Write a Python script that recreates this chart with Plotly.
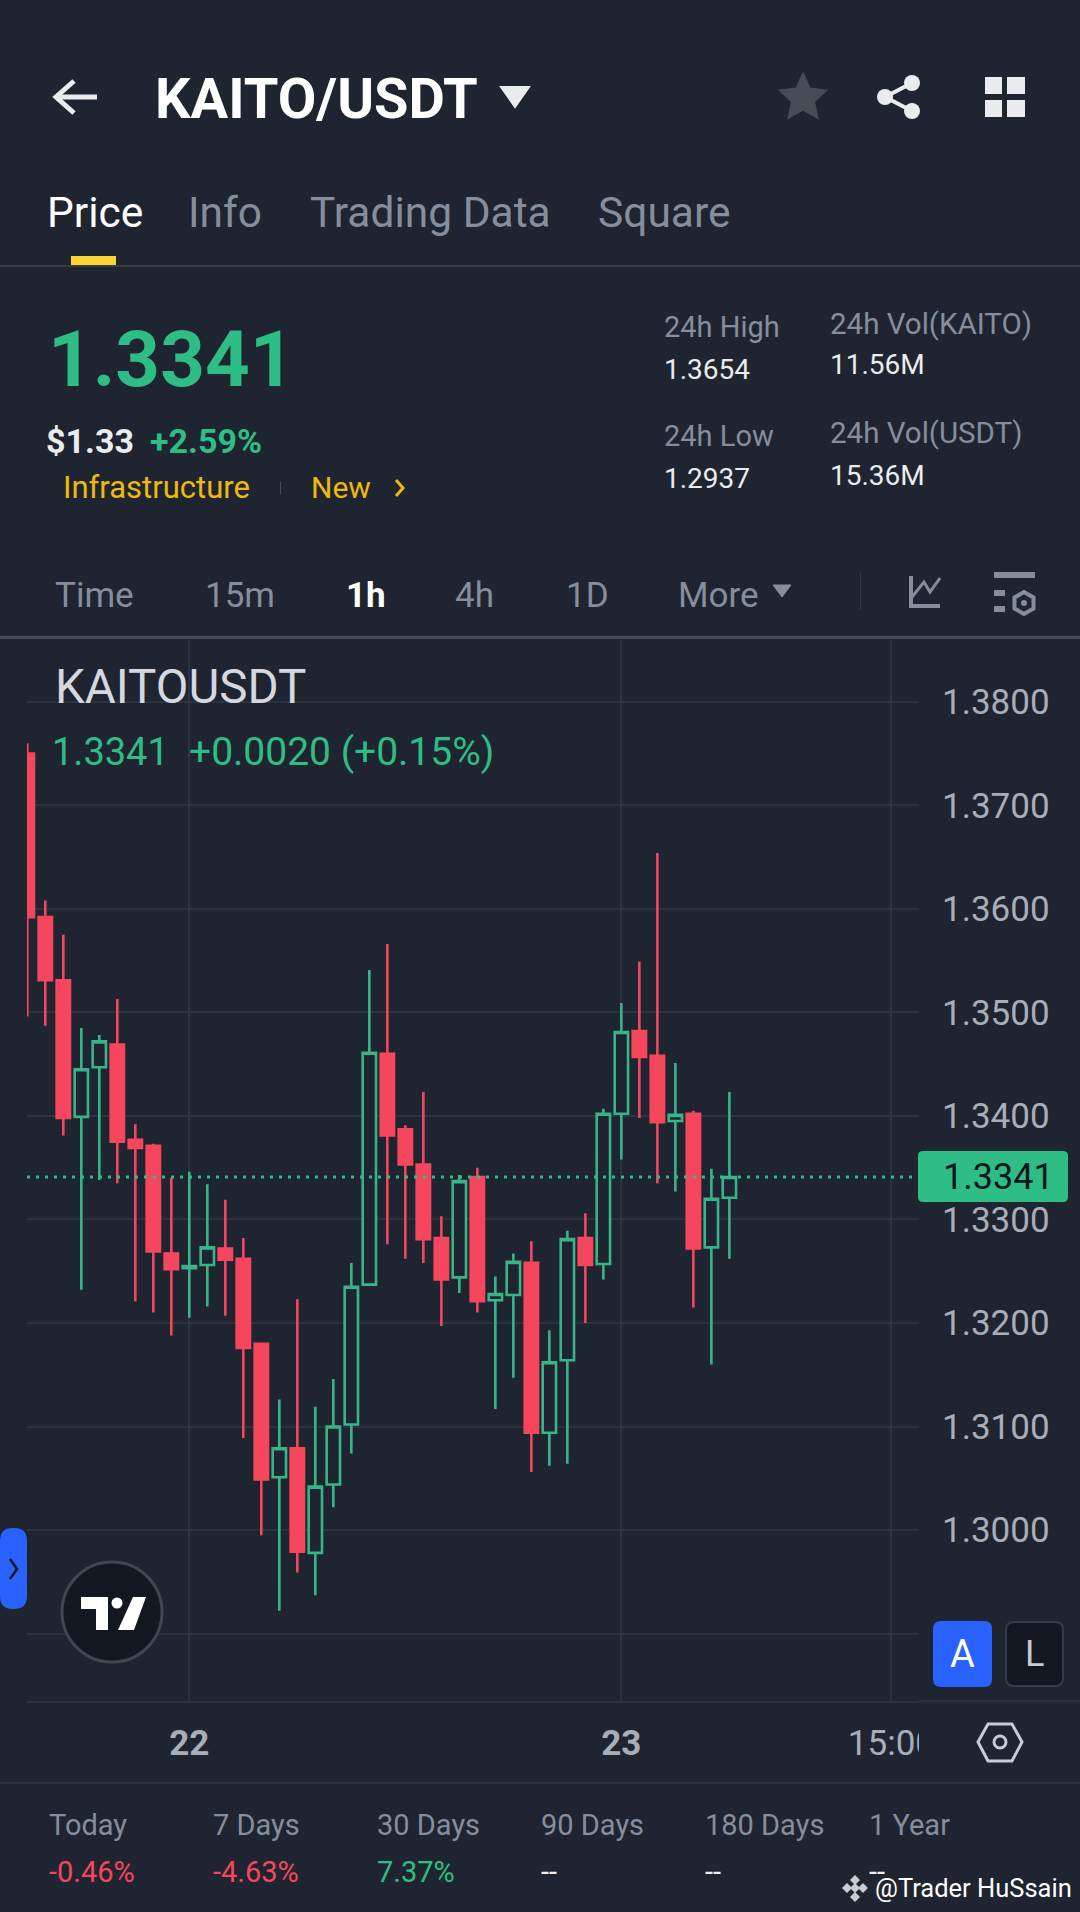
import math
import pandas as pd
import plotly.graph_objects as go

# hourly candles
start_time = "2025-02-21 15:00"
opens = [1.3750, 1.3592, 1.3531, 1.3399, 1.3447, 1.3469, 1.3377, 1.3371, 1.3267, 1.3253,
         1.3256, 1.3272, 1.3262, 1.3180, 1.3051, 1.3079, 1.2978, 1.3044, 1.3102, 1.3237,
         1.3460, 1.3387, 1.3353, 1.3282, 1.3244, 1.3341, 1.3222, 1.3227, 1.3258, 1.3094,
         1.3164, 1.3282, 1.3257, 1.3402, 1.3482, 1.3458, 1.3395, 1.3402, 1.3273, 1.3321]
highs = [1.3760, 1.3608, 1.3575, 1.3485, 1.3478, 1.3513, 1.3392, 1.3373, 1.3340, 1.3346,
         1.3334, 1.3319, 1.3282, 1.3180, 1.3126, 1.3223, 1.3119, 1.3146, 1.3258, 1.3541,
         1.3566, 1.3391, 1.3423, 1.3303, 1.3343, 1.3350, 1.3245, 1.3267, 1.3279, 1.3193,
         1.3289, 1.3306, 1.3407, 1.3509, 1.3549, 1.3654, 1.3451, 1.3405, 1.3349, 1.3423]
lows = [1.3496, 1.3487, 1.3381, 1.3232, 1.3338, 1.3335, 1.3221, 1.3210, 1.3188, 1.3205,
        1.3216, 1.3207, 1.3089, 1.2995, 1.2922, 1.2959, 1.2937, 1.3022, 1.3074, 1.3237,
        1.3276, 1.3262, 1.3258, 1.3197, 1.3229, 1.3210, 1.3117, 1.3147, 1.3056, 1.3062,
        1.3064, 1.3200, 1.3242, 1.3358, 1.3398, 1.3335, 1.3327, 1.3215, 1.3160, 1.3262]
closes = [1.3592, 1.3531, 1.3398, 1.3445, 1.3472, 1.3375, 1.3369, 1.3269, 1.3252, 1.3255,
          1.3273, 1.3261, 1.3176, 1.3049, 1.3079, 1.2979, 1.3042, 1.3100, 1.3235, 1.3461,
          1.3381, 1.3353, 1.3281, 1.3242, 1.3337, 1.3221, 1.3228, 1.3259, 1.3094, 1.3162,
          1.3281, 1.3256, 1.3402, 1.3481, 1.3457, 1.3394, 1.3401, 1.3272, 1.3320, 1.3341]
last_price = 1.3341

price_ticks = [1.38, 1.37, 1.36, 1.35, 1.34, 1.33, 1.32, 1.31, 1.30, 1.29]
price_labels = ["1.3800", "1.3700", "1.3600", "1.3500", "1.3400", "1.3300", "1.3200", "1.3100", "1.3000", ""]
time_ticks = ["2025-02-22 00:00", "2025-02-23 00:00", "2025-02-23 15:00"]
time_labels = ["<b>22</b>", "<b>23</b>", "15:00"]

tabs = ["Price", "Info", "Trading Data", "Square"]
intervals = ["Time", "15m", "1h", "4h", "1D", "More"]
periods = ["Today", "7 Days", "30 Days", "90 Days", "180 Days", "1 Year"]
period_changes = ["-0.46%", "-4.63%", "7.37%", "--", "--", "--"]

W, H = 1080, 1912
BG = "#1e2530"
GRID = "#2d333e"
GREEN = "#2ebd85"
CANDLE_GREEN = "#37b589"
RED = "#f6465d"
GRAY = "#848e9c"
WHITE = "#eaecef"
YELLOW = "#f0b90b"
BLUE = "#2962ff"
FONT = "Roboto"

shapes = []
annotations = []


def px(x):
    return x / W


def py(y):
    return 1 - y / H


def label(x, y, text, size, color, anchor="left"):
    # glyphs start a little right of the anchor
    x = x - 1.5 if anchor == "left" else x
    annotations.append(dict(xref="paper", yref="paper", x=px(x), y=py(y), text=text, showarrow=False,
                            xanchor=anchor, yanchor="middle", borderpad=0,
                            font=dict(family=FONT, size=size, color=color)))


def rect(x0, y0, x1, y1, fill, line=None, width=0):
    shapes.append(dict(type="rect", xref="paper", yref="paper", x0=px(x0), x1=px(x1), y0=py(y0), y1=py(y1),
                       fillcolor=fill, line=dict(color=line or fill, width=width), layer="above"))


def circle(cx, cy, r, fill, line=None, width=0):
    shapes.append(dict(type="circle", xref="paper", yref="paper", x0=px(cx - r), x1=px(cx + r),
                       y0=py(cy - r), y1=py(cy + r), fillcolor=fill,
                       line=dict(color=line or fill, width=width), layer="above"))


def poly(points, color, width=0, fill=None, close=False):
    d = "M" + " L".join(f"{px(x)},{py(y)}" for x, y in points) + (" Z" if close else "")
    shapes.append(dict(type="path", xref="paper", yref="paper", path=d, fillcolor=fill,
                       line=dict(color=color, width=width), layer="above"))


def round_rect(x0, y0, x1, y1, r, fill, line=None, width=0):
    d = (f"M{px(x0 + r)},{py(y0)} L{px(x1 - r)},{py(y0)} Q{px(x1)},{py(y0)} {px(x1)},{py(y0 + r)} "
         f"L{px(x1)},{py(y1 - r)} Q{px(x1)},{py(y1)} {px(x1 - r)},{py(y1)} "
         f"L{px(x0 + r)},{py(y1)} Q{px(x0)},{py(y1)} {px(x0)},{py(y1 - r)} "
         f"L{px(x0)},{py(y0 + r)} Q{px(x0)},{py(y0)} {px(x0 + r)},{py(y0)} Z")
    shapes.append(dict(type="path", xref="paper", yref="paper", path=d, fillcolor=fill,
                       line=dict(color=line or fill, width=width), layer="above"))


dates = pd.date_range(start_time, periods=len(opens), freq="h")

fig = go.Figure(go.Candlestick(
    x=dates, open=opens, high=highs, low=lows, close=closes,
    increasing=dict(line=dict(color=CANDLE_GREEN, width=2.6), fillcolor=BG),
    decreasing=dict(line=dict(color=RED, width=2.6), fillcolor=RED),
    whiskerwidth=0,
))

# header
poly([(97, 97), (56, 97)], WHITE, 5)
poly([(74, 81), (56, 97), (74, 113)], WHITE, 5)
label(155, 99, "<b>KAITO/USDT</b>", 56, "#ffffff")
poly([(501, 87), (529, 87), (515, 107)], WHITE, 2, WHITE, True)

star = []
for k in range(10):
    r = 23 if k % 2 == 0 else 11
    a = math.radians(-90 + 36 * k)
    star.append((803 + r * math.cos(a), 98 + r * math.sin(a)))
poly(star, "#474d57", 3, "#474d57", True)

poly([(912, 83), (885, 97), (912, 111)], WHITE, 4)
circle(885, 97, 8, WHITE)
circle(912, 83, 8, WHITE)
circle(912, 111, 8, WHITE)
rect(985, 77, 1002, 94, WHITE)
rect(1007, 77, 1025, 94, WHITE)
rect(985, 100, 1002, 117, WHITE)
rect(1007, 100, 1025, 117, WHITE)

for tab, x in zip(tabs, [47, 188, 310, 598]):
    label(x, 212, tab, 42.5, "#ffffff" if tab == "Price" else GRAY)
rect(71, 256, 116, 265, "#fcd535")
rect(0, 265, W, 267, "#363c47")

# ticker block
label(48, 359, "<b>1.3341</b>", 78, GREEN)
label(46, 441, "<b>$1.33</b>", 34, WHITE)
label(150, 441, "<b>+2.59%</b>", 34, GREEN)
label(63, 488, "Infrastructure", 31, YELLOW)
rect(280, 482, 281, 494, "#474d57")
label(311, 488, "New", 30, YELLOW)
poly([(396, 480), (403, 488), (396, 496)], YELLOW, 3)
label(664, 327, "24h High", 29, GRAY)
label(664, 370, "1.3654", 28, WHITE)
label(664, 436, "24h Low", 29, GRAY)
label(664, 478, "1.2937", 28, WHITE)
label(830, 324, "24h Vol(KAITO)", 29.5, GRAY)
label(830, 365, "11.56M", 28, WHITE)
label(830, 433, "24h Vol(USDT)", 29.5, GRAY)
label(830, 475, "15.36M", 28, WHITE)

# interval bar
for name, x in zip(intervals, [55, 205, 346, 455, 566, 678]):
    if name == "1h":
        label(x, 595, "<b>1h</b>", 35, "#ffffff")
    else:
        label(x, 595, name, 35, GRAY)
poly([(773, 585), (791, 585), (782, 597)], GRAY, 1, GRAY, True)
rect(860, 573, 861, 610, "#363c47")
poly([(911, 576), (911, 606), (940, 606)], GRAY, 4)
poly([(912, 597), (924, 582), (930, 592), (940, 578)], GRAY, 3)
rect(994, 572, 1035, 578, GRAY)
rect(994, 590, 1005, 596, GRAY)
rect(994, 606, 1005, 612, GRAY)
hex_icon = [(1024 + 11 * math.cos(math.radians(30 + 60 * k)), 603 + 11 * math.sin(math.radians(30 + 60 * k))) for k in range(6)]
poly(hex_icon, GRAY, 4, BG, True)
circle(1024, 603, 3, GRAY)
rect(0, 636, W, 639, "#474d57")

# chart overlays
label(55, 687, "KAITOUSDT", 47.5, "#d5d8df")
label(52, 752, "1.3341", 38, GREEN)
label(189, 752, "+0.0020 (+0.15%)", 39, GREEN)

shapes.append(dict(type="line", xref="paper", yref="y", x0=px(27), x1=px(918), y0=last_price, y1=last_price,
                   line=dict(color=GREEN, width=3, dash="3px,6px"), layer="above"))
round_rect(918, 1151, 1068, 1202, 5, GREEN)
label(943, 1177, f"{last_price:.4f}", 36, "#11161c")

# cuts the 15:00 label at the edge of the plot, like the reference
rect(919, 1703, 975, 1780, BG)
rect(919, 1700, W, 1702, GRID)

round_rect(0, 1528, 27, 1609, 13, BLUE)
poly([(10, 1559), (17, 1569), (10, 1579)], "#131722", 2.5)
circle(112, 1612, 50, "#131722", "#434651", 3)
poly([(81, 1597), (108, 1597), (108, 1630), (96, 1630), (96, 1609), (81, 1609)], "#ffffff", 0, "#ffffff", True)
circle(117, 1603, 5.5, "#ffffff")
poly([(133, 1597), (146, 1597), (134, 1630), (118, 1630)], "#ffffff", 0, "#ffffff", True)

round_rect(933, 1621, 992, 1687, 8, BLUE)
label(962, 1654, "A", 38, "#ffffff", "center")
round_rect(1006, 1622, 1063, 1686, 8, "#131722", "#363c47", 2)
label(1034, 1654, "L", 36, "#c7cbd2", "center")

poly([(978, 1742), (988, 1724), (1012, 1724), (1022, 1742), (1012, 1761), (988, 1761)], "#c7cbd2", 3, None, True)
circle(1000, 1742, 6, BG, "#c7cbd2", 3)

# period changes
rect(0, 1782, W, 1784, GRID)
for name, change, x in zip(periods, period_changes, [49, 213, 377, 541, 705, 869]):
    label(x, 1825, name, 29, GRAY)
    color = RED if change.startswith("-0") or change.startswith("-4") else GREEN if change != "--" else WHITE
    label(x, 1872, change, 29, color)

# watermark
for cx, cy in [(855, 1880), (847, 1888), (863, 1888), (855, 1888), (855, 1897)]:
    poly([(cx, cy - 5), (cx + 5, cy), (cx, cy + 5), (cx - 5, cy)], "#c9ccd3", 0, "#c9ccd3", True)
label(875, 1888, "@Trader HuSsain", 25.5, "#ffffff")

fig.update_layout(
    width=W, height=H, margin=dict(l=0, r=0, t=0, b=0, autoexpand=False), showlegend=False,
    paper_bgcolor=BG, plot_bgcolor=BG,
    font=dict(family=FONT),
    boxgap=0.26, boxgroupgap=0,
    shapes=shapes, annotations=annotations,
    xaxis=dict(
        domain=[px(27), px(919)], type="date", rangeslider=dict(visible=False),
        range=["2025-02-21 14:59", "2025-02-23 16:32"], automargin=False,
        tickmode="array", tickvals=time_ticks, ticktext=time_labels,
        showgrid=True, gridcolor=GRID, gridwidth=2, zeroline=False,
        showline=True, linecolor=GRID, linewidth=2,
        ticks="outside", ticklen=10, tickcolor=BG,
        tickfont=dict(family=FONT, size=35, color="#a8aeb8"),
    ),
    yaxis=dict(
        domain=[py(1700.5), py(640)], side="right", range=[1.28354, 1.38596], automargin=False,
        tickmode="array", tickvals=price_ticks, ticktext=price_labels,
        showgrid=True, gridcolor=GRID, gridwidth=2, zeroline=False, showline=False,
        ticks="outside", ticklen=15, tickcolor=BG,
        tickfont=dict(family=FONT, size=35, color="#a8aeb8"),
    ),
)

fig.write_html("out.html", config=dict(displayModeBar=False, responsive=False),
               post_script="document.body.style.margin='0';document.documentElement.style.overflow='hidden';")
